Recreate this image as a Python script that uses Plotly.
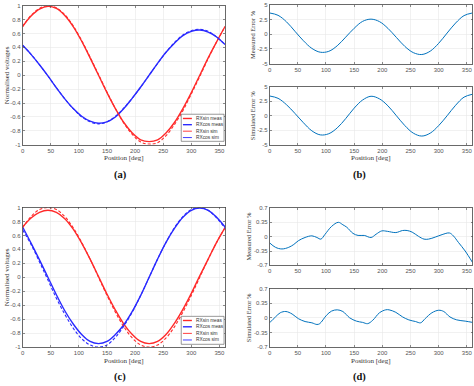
import plotly.graph_objects as go

# ---------------- data ----------------
deg = [0, 15, 30, 45, 60, 75, 90, 105, 120, 135, 150, 165, 180,
       195, 210, 225, 240, 255, 270, 285, 300, 315, 330, 345, 360]

# panel (a)
a_sin_meas = [0.70, 0.85, 0.95, 0.99, 0.96, 0.86, 0.70, 0.49, 0.25, 0.00, -0.25, -0.48, -0.68,
              -0.83, -0.93, -0.955, -0.93, -0.83, -0.68, -0.48, -0.25, 0.00, 0.25, 0.48, 0.70]
a_cos_meas = [0.43, 0.30, 0.15, -0.01, -0.18, -0.34, -0.48, -0.59, -0.66, -0.69, -0.67, -0.60, -0.48,
              -0.33, -0.17, 0.00, 0.17, 0.33, 0.46, 0.57, 0.63, 0.65, 0.62, 0.55, 0.44]
a_sin_sim = [0.70, 0.86, 0.96, 1.00, 0.97, 0.87, 0.71, 0.50, 0.26, 0.01, -0.24, -0.48, -0.69,
             -0.85, -0.96, -0.99, -0.97, -0.87, -0.71, -0.51, -0.27, -0.02, 0.24, 0.48, 0.70]
a_cos_sim = [0.43, 0.30, 0.15, -0.01, -0.18, -0.34, -0.48, -0.60, -0.67, -0.70, -0.67, -0.59, -0.47,
             -0.33, -0.17, 0.00, 0.17, 0.33, 0.47, 0.58, 0.64, 0.66, 0.63, 0.55, 0.44]

# panel (c)
c_sin_meas = [0.72, 0.85, 0.93, 0.96, 0.93, 0.84, 0.69, 0.49, 0.26, 0.01, -0.24, -0.47, -0.67,
              -0.82, -0.92, -0.95, -0.92, -0.82, -0.66, -0.46, -0.23, 0.02, 0.26, 0.50, 0.71]
c_cos_meas = [0.72, 0.49, 0.25, 0.00, -0.25, -0.48, -0.67, -0.82, -0.92, -0.95, -0.92, -0.82, -0.68,
              -0.49, -0.26, 0.00, 0.26, 0.50, 0.70, 0.86, 0.96, 0.99, 0.96, 0.86, 0.72]
c_sin_sim = [0.71, 0.87, 0.97, 1.00, 0.97, 0.87, 0.71, 0.50, 0.26, 0.00, -0.26, -0.50, -0.71,
             -0.87, -0.97, -1.00, -0.97, -0.87, -0.71, -0.50, -0.26, 0.00, 0.26, 0.50, 0.71]
c_cos_sim = [0.68, 0.47, 0.22, -0.04, -0.30, -0.53, -0.73, -0.88, -0.97, -1.00, -0.97, -0.86, -0.70,
             -0.50, -0.26, 0.00, 0.26, 0.50, 0.71, 0.87, 0.97, 1.00, 0.96, 0.85, 0.70]

# panel (b)
b_meas_err = [3.6, 3.2, 2.1, 0.5, -1.1, -2.4, -3.05, -2.9, -1.96, -0.5, 1.0, 2.17, 2.55,
              2.13, 0.99, -0.55, -2.07, -3.12, -3.44, -2.87, -1.54, 0.2, 1.89, 3.15, 3.6]
b_sim_err = [3.4, 3.0, 1.9, 0.4, -1.2, -2.6, -3.3, -3.1, -2.1, -0.5, 1.3, 2.7, 3.35,
             2.9, 1.7, 0.0, -1.7, -3.0, -3.5, -3.0, -1.7, 0.0, 1.8, 3.2, 3.7]

# panel (d)
d_meas_x = [0, 10.5, 22, 34, 43, 51, 63, 75, 84, 91, 98, 110, 122, 130, 137, 148, 157, 168,
            180, 189, 199, 209, 224, 236, 244, 253, 264, 274, 282, 294, 306, 319, 326, 335, 347, 360]
d_meas_err = [-0.15, -0.26, -0.30, -0.26, -0.19, -0.10, -0.02, 0.02, -0.02, -0.06, 0.05, 0.25,
              0.35, 0.29, 0.23, 0.08, 0.03, 0.03, -0.02, 0.06, 0.14, 0.13, 0.10, 0.15, 0.15, 0.11,
              0.01, -0.06, -0.06, -0.01, 0.05, 0.09, 0.02, -0.14, -0.35, -0.63]
d_sim_x = [0, 10.5, 19, 29, 40, 51, 63, 75, 84, 89, 101, 110, 120, 130, 142, 154, 165, 174,
           183, 195, 206, 212, 224, 236, 247, 259, 268, 276, 288, 300, 309, 320, 332, 347, 360]
d_sim_err = [-0.12, 0.02, 0.12, 0.15, 0.09, -0.02, -0.09, -0.12, -0.16, -0.14, 0.06, 0.16, 0.19,
             0.15, 0.00, -0.08, -0.11, -0.14, -0.06, 0.12, 0.19, 0.19, 0.13, 0.02, -0.05, -0.09,
             -0.12, -0.02, 0.12, 0.18, 0.15, 0.02, -0.05, -0.08, -0.11]

x_ticks = [0, 50, 100, 150, 200, 250, 300, 350]
v_ticks = [-1, -0.8, -0.6, -0.4, -0.2, 0, 0.2, 0.4, 0.6, 0.8, 1]
v_tick_text = ["-1", "-0.8", "-0.6", "-0.4", "-0.2", "0", "0.2", "0.4", "0.6", "0.8", "1"]
b_ticks = [-5, -2.5, 0, 2.5, 5]
b_tick_text = ["-5", "-2.5", "0", "2.5", "5"]
d_ticks = [-0.7, -0.35, 0, 0.35, 0.7]
d_tick_text = ["-0.7", "-0.35", "0", "0.35", "0.7"]

legend_names = ["RXsin meas", "RXcos meas", "RXsin sim", "RXcos sim"]

# ---------------- style ----------------
W, H = 474, 386
RED = "#ff2a2a"
BLUE = "#2a2aff"
ERR = "#0072BD"
TICKFONT = dict(family="Liberation Sans, Arial, sans-serif", size=6, color="#555555")
SERIF = "Liberation Serif, Times New Roman, serif"


def px(x):
    return x / W


def py(y):
    return 1 - y / H


fig = go.Figure()


def add_line(x, y, color, dash, width, ax):
    fig.add_trace(go.Scatter(
        x=x, y=y, mode="lines", showlegend=False,
        line=dict(color=color, dash=dash, width=width, shape="spline", smoothing=1.0),
        xaxis="x" + ax, yaxis="y" + ax, hoverinfo="skip"))

# (a) -> axis 1
add_line(deg, a_sin_meas, RED, "solid", 1.4, "")
add_line(deg, a_cos_meas, BLUE, "solid", 1.4, "")
add_line(deg, a_sin_sim, RED, "3px,2px", 1.1, "")
add_line(deg, a_cos_sim, BLUE, "3px,2px", 1.1, "")
# (b) top -> 2, bottom -> 3
add_line(deg, b_meas_err, ERR, "solid", 1.0, "2")
add_line(deg, b_sim_err, ERR, "solid", 1.0, "3")
# (c) -> 4
add_line(deg, c_sin_meas, RED, "solid", 1.4, "4")
add_line(deg, c_cos_meas, BLUE, "solid", 1.4, "4")
add_line(deg, c_sin_sim, RED, "3px,2px", 1.1, "4")
add_line(deg, c_cos_sim, BLUE, "3px,2px", 1.1, "4")
# (d) top -> 5, bottom -> 6
add_line(d_meas_x, d_meas_err, ERR, "solid", 1.0, "5")
add_line(d_sim_x, d_sim_err, ERR, "solid", 1.0, "6")

axis_common = dict(showline=True, mirror="ticks", linecolor="#444444", linewidth=0.8,
                   ticks="inside", ticklen=2, tickwidth=0.6, tickcolor="#444444",
                   showgrid=True, gridcolor="#e8e8e8", gridwidth=0.6,
                   zeroline=False, tickfont=TICKFONT, fixedrange=True)

LX = (px(20.7), px(224))
RX = (px(268.7), px(472.5))
dom = {
    "": (LX, (py(144), py(2.7))),
    "2": (RX, (py(61.7), py(1.7))),
    "3": (RX, (py(144), py(85))),
    "4": (LX, (py(349.5), py(207.7))),
    "5": (RX, (py(266.5), py(208.2))),
    "6": (RX, (py(349.5), py(290))),
}
yinfo = {
    "": ([-1, 1], v_ticks, v_tick_text),
    "2": ([-5, 5], b_ticks, b_tick_text),
    "3": ([-5, 5], b_ticks, b_tick_text),
    "4": ([-1, 1], v_ticks, v_tick_text),
    "5": ([-0.7, 0.7], d_ticks, d_tick_text),
    "6": ([-0.7, 0.7], d_ticks, d_tick_text),
}
layout_axes = {}
for k, (xd, yd) in dom.items():
    rng, tv, tt = yinfo[k]
    layout_axes["xaxis" + k] = dict(axis_common, domain=list(xd), range=[0, 360],
                                    tickvals=x_ticks, ticktext=[str(t) for t in x_ticks],
                                    anchor="y" + k)
    layout_axes["yaxis" + k] = dict(axis_common, domain=list(yd), range=rng,
                                    tickvals=tv, ticktext=tt, anchor="x" + k)

fig.update_layout(**layout_axes)

annotations = []
shapes = []


def ann(text, x, y, size=7, angle=0, family=SERIF, color="#333333", xanchor="center"):
    annotations.append(dict(text=text, x=px(x), y=py(y), xref="paper", yref="paper",
                            showarrow=False, textangle=angle, xanchor=xanchor, yanchor="middle",
                            font=dict(family=family, size=size, color=color)))

# axis titles
ann("Normalised voltages", 4.5, 73, size=7, angle=-90)
ann("Normalised voltages", 4.5, 278, size=7, angle=-90)
ann("Position [deg]", 122, 157.5, size=7)
ann("Position [deg]", 122, 363.5, size=7)
ann("Position [deg]", 370, 157.5, size=7)
ann("Position [deg]", 370, 363.5, size=7)
ann("Measured Error %", 251.5, 32, size=6.5, angle=-90)
ann("Simulated Error %", 251.5, 114.5, size=6.5, angle=-90)
ann("Measured Error %", 247.3, 237, size=6.5, angle=-90)
ann("Simulated Error %", 247.3, 320, size=6.5, angle=-90)

# panel labels
ann("<b>(a)</b>", 119, 174.5, size=10.5, color="#111111")
ann("<b>(b)</b>", 359, 174.5, size=10.5, color="#111111")
ann("<b>(c)</b>", 119, 380, size=10.5, color="#111111")
ann("<b>(d)</b>", 359, 380, size=10.5, color="#111111")

# manual legends for (a) and (c)
leg_styles = [(RED, "solid", 1.4), (BLUE, "solid", 1.4), (RED, "dash", 0.9), (BLUE, "dash", 0.9)]
for (bx0, by0, bx1, by1, rows) in [
    (180, 113, 223, 140.5, [117.3, 123.6, 130.2, 136.7]),
    (180, 318.3, 223, 346.7, [322.5, 328.9, 335.6, 342.3]),
]:
    shapes.append(dict(type="rect", xref="paper", yref="paper",
                       x0=px(bx0), x1=px(bx1), y0=py(by1), y1=py(by0),
                       line=dict(color="#555555", width=0.6), fillcolor="white", layer="above"))
    for name, ry, (col, dsh, wd) in zip(legend_names, rows, leg_styles):
        shapes.append(dict(type="line", xref="paper", yref="paper",
                           x0=px(181.7), x1=px(190.7), y0=py(ry), y1=py(ry),
                           line=dict(color=col, width=wd, dash=dsh), layer="above"))
        ann(name, 192.5, ry, size=4.8, family="Liberation Sans, Arial, sans-serif",
            color="#333333", xanchor="left")

fig.update_layout(
    width=W, height=H, autosize=False,
    margin=dict(l=0, r=0, t=0, b=0),
    paper_bgcolor="white", plot_bgcolor="white",
    showlegend=False, hovermode=False,
    annotations=annotations, shapes=shapes,
)

fig.write_html("out.html",
               config={"displayModeBar": False, "staticPlot": True},
               post_script="document.body.style.margin='0';document.body.style.padding='0';"
                           "document.body.style.overflow='hidden';")
